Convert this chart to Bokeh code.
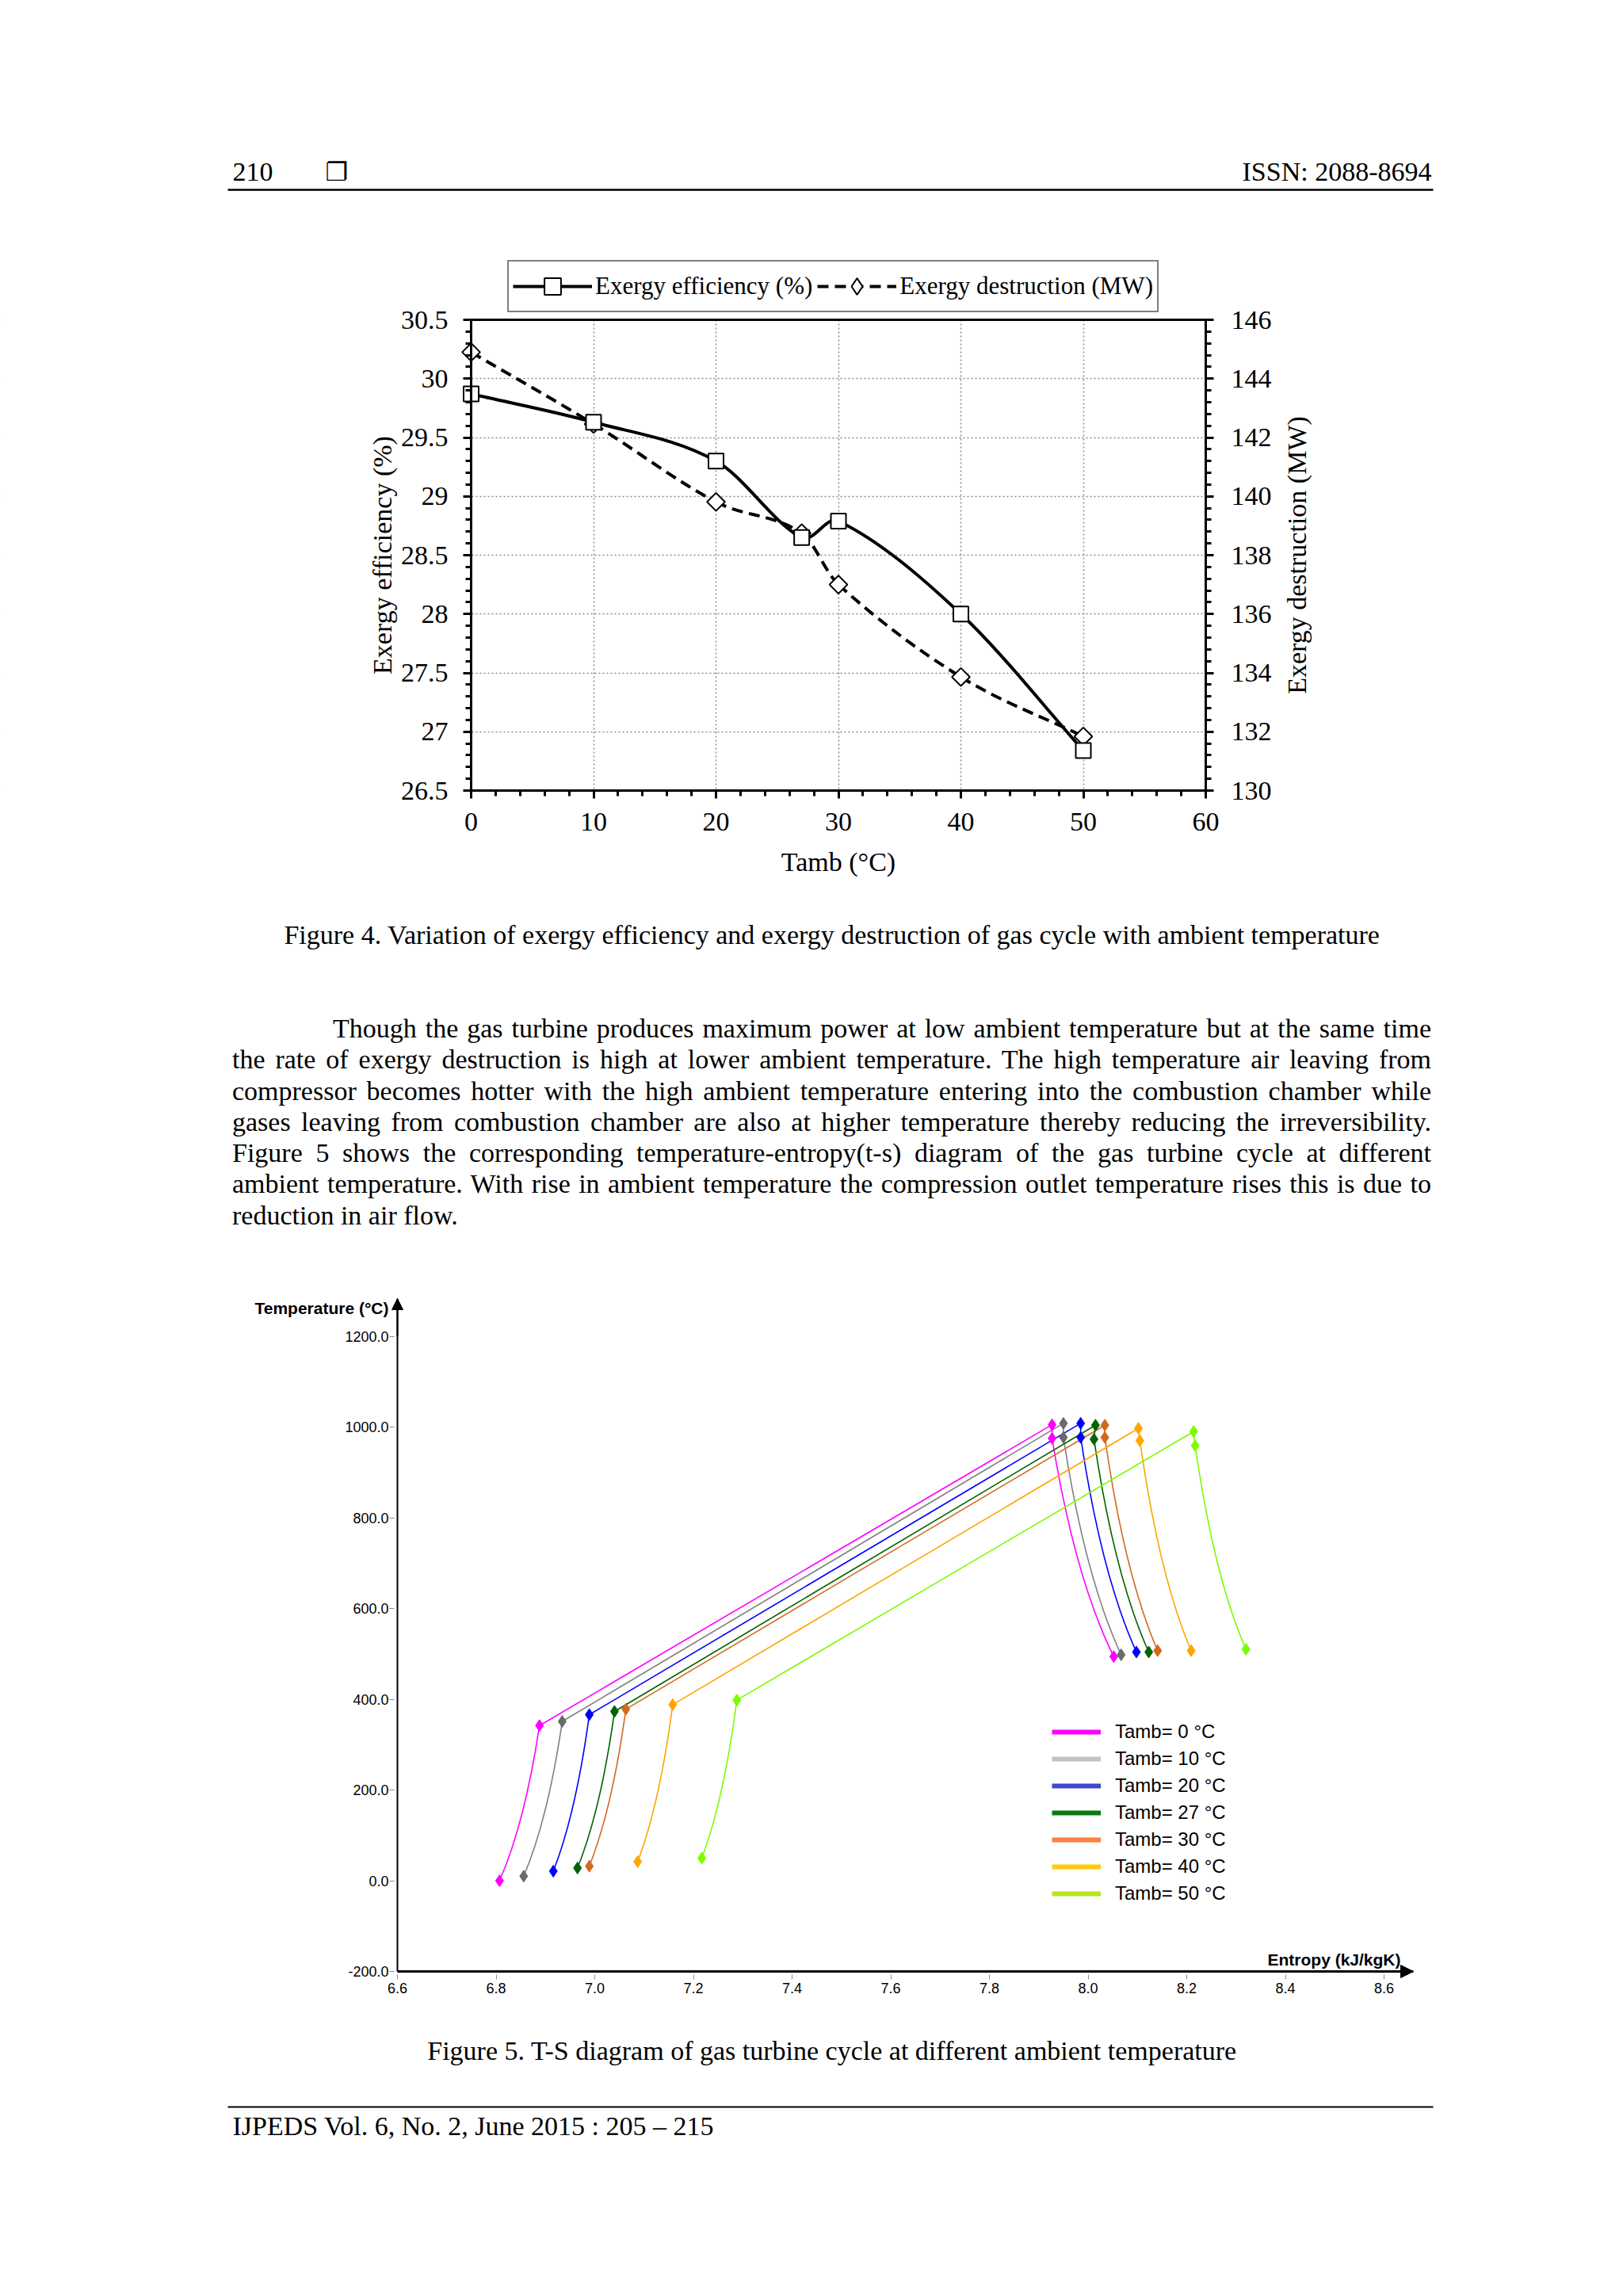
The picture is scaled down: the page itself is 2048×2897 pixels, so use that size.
import math
import numpy as np
from bokeh.plotting import figure
from bokeh.models import (Range1d, LinearAxis, SingleIntervalTicker, FixedTicker,
                          NumeralTickFormatter, CustomJSTickFormatter, Legend, LegendItem,
                          Arrow, NormalHead, Div, ColumnDataSource, Label, BoxAnnotation)
from bokeh.layouts import column
from bokeh.core.properties import value
from bokeh.embed import file_html
from bokeh.resources import INLINE

# ---------------- Figure 4 data ----------------
tamb = [0, 10, 20, 27, 30, 40, 50]
exergy_efficiency = [29.87, 29.63, 29.30, 28.65, 28.79, 28.00, 26.84]      # %
exergy_destruction = [144.9, 142.46, 139.81, 138.75, 137.0, 133.86, 131.84]  # MW
tamb_axis = (0, 60)
eff_axis = (26.5, 30.5)
mw_axis = (130, 146)

# ---------------- Figure 5 data (T-s diagram) ----------------
ts_labels = ["Tamb= 0 °C", "Tamb= 10 °C", "Tamb= 20 °C", "Tamb= 27 °C",
             "Tamb= 30 °C", "Tamb= 40 °C", "Tamb= 50 °C"]
s_inlet = [6.807, 6.856, 6.916, 6.965, 6.989, 7.087, 7.217]
t_inlet = [0, 10, 21, 28, 32, 42, 50]
s_comp_out = [6.888, 6.934, 6.989, 7.040, 7.063, 7.158, 7.288]
t_comp_out = [342, 351, 366, 373, 378, 388, 398]
s_comb_out = [7.927, 7.950, 7.985, 8.015, 8.034, 8.102, 8.214]
t_comb_out = [1005, 1008, 1008, 1004, 1004, 997, 990]
s_turb_in = [7.927, 7.950, 7.985, 8.012, 8.034, 8.105, 8.217]
t_turb_in = [975, 977, 977, 973, 977, 970, 959]
s_exhaust = [8.052, 8.067, 8.098, 8.123, 8.141, 8.209, 8.320]
t_exhaust = [494, 498, 504, 504, 507, 507, 510]
entropy_ticks = [6.6, 6.8, 7.0, 7.2, 7.4, 7.6, 7.8, 8.0, 8.2, 8.4, 8.6]
temperature_ticks = [-200, 0, 200, 400, 600, 800, 1000, 1200]

line_colors = ["#FF00FF", "#808080", "#0000FF", "#006400", "#D2691E", "#FFA500", "#7CFC00"]
marker_colors = ["#FF00FF", "#6A6A6A", "#0000FF", "#006400", "#D2691E", "#FFA500", "#7CFC00"]
legend_colors = ["#FF00FF", "#C3C3C3", "#3F48CC", "#0A7A0A", "#FF7F3F", "#FFC90E", "#B5E61D"]

# ---------------- page text ----------------
header_left = "210"
header_right = "ISSN: 2088-8694"
caption4 = "Figure 4. Variation of exergy efficiency and exergy destruction of gas cycle with ambient temperature"
caption5 = "Figure 5. T-S diagram of gas turbine cycle at different ambient temperature"
footer = "IJPEDS Vol. 6, No. 2, June 2015 :  205 \u2013 215"
paragraph_lines = [
    "Though the gas turbine produces maximum power at low ambient temperature but at the same time",
    "the rate of exergy destruction is high at lower ambient temperature. The high temperature air leaving from",
    "compressor becomes hotter with the high ambient temperature entering into the combustion chamber while",
    "gases leaving from combustion chamber are also at higher temperature thereby reducing the irreversibility.",
    "Figure 5 shows the corresponding temperature-entropy(t-s) diagram of the gas turbine cycle at different",
    "ambient temperature. With rise in ambient temperature the compression outlet temperature rises this is due to",
    "reduction in air flow.",
]

SERIF = "Liberation Serif"
SANS = "Liberation Sans"
PAGE_W = 2032
TEXT_L, TEXT_R = 293, 1806
TEXT_C = (TEXT_L + TEXT_R) / 2
BASE_FIX = 0.32      # em; compensates where the renderer puts an "alphabetic" baseline


def page_fig(top, height):
    p = figure(width=PAGE_W, height=height, x_range=Range1d(0, PAGE_W),
               y_range=Range1d(top + height, top), x_axis_location=None, y_axis_location=None,
               title=None, toolbar_location=None, output_backend="svg", min_border=0,
               frame_align=False, outline_line_color=None,
               background_fill_color="white", border_fill_color="white")
    p.grid.visible = False
    return p


def serif_text(p, x, y, txt, align="left", size=34, font=SERIF):
    p.text(x=[x], y=[y - BASE_FIX * size], text=[txt], text_font=value(font),
           text_font_size=value("%dpx" % size),
           text_align=align, text_baseline="alphabetic", text_color="black")


def hermite_bezier(x, y):
    x = np.asarray(x, float)
    y = np.asarray(y, float)
    n = len(x)
    m = np.zeros(n)
    m[0] = (y[1] - y[0]) / (x[1] - x[0])
    m[-1] = (y[-1] - y[-2]) / (x[-1] - x[-2])
    for i in range(1, n - 1):
        m[i] = (y[i + 1] - y[i - 1]) / (x[i + 1] - x[i - 1])
    h = np.diff(x)
    return dict(x0=x[:-1], y0=y[:-1], x1=x[1:], y1=y[1:],
                cx0=x[:-1] + h / 3, cy0=y[:-1] + m[:-1] * h / 3,
                cx1=x[1:] - h / 3, cy1=y[1:] - m[1:] * h / 3)


# ---------------- header ----------------
hdr = page_fig(0, 300)
serif_text(hdr, TEXT_L, 227, header_left)
serif_text(hdr, 410, 227, "\u2750", size=32, font="DejaVu Sans")
serif_text(hdr, TEXT_R, 227, header_right, align="right")
hdr.segment(x0=[287], y0=[239], x1=[TEXT_R + 2], y1=[239], line_color="black", line_width=2.5)

# ---------------- Figure 4 (everything drawn inside one frame) ----------------
F4_TOP, F4_H = 300, 840
AX4_L, AX4_R, AX4_T, AX4_B = 594, 1521, 403, 997      # page position of the plot box
px_x = (AX4_R - AX4_L) / (tamb_axis[1] - tamb_axis[0])
px_eff = (AX4_B - AX4_T) / (eff_axis[1] - eff_axis[0])
px_mw = (AX4_B - AX4_T) / (mw_axis[1] - mw_axis[0])
F4_BOT = F4_TOP + F4_H
p4 = figure(width=PAGE_W, height=F4_H,
            x_range=Range1d(tamb_axis[0] - AX4_L / px_x, tamb_axis[1] + (PAGE_W - AX4_R) / px_x),
            y_range=Range1d(eff_axis[0] - (F4_BOT - AX4_B) / px_eff,
                            eff_axis[0] + (AX4_B - F4_TOP) / px_eff),
            title=None, toolbar_location=None, output_backend="svg", frame_align=False,
            min_border=0, outline_line_color=None,
            background_fill_color="white", border_fill_color="white")
p4.extra_y_ranges = {"mw": Range1d(mw_axis[0] - (F4_BOT - AX4_B) / px_mw,
                                   mw_axis[0] + (AX4_B - F4_TOP) / px_mw)}
ax_l = p4.left[0]
ax_b = p4.below[0]
ax_b.ticker = SingleIntervalTicker(interval=10, num_minor_ticks=5)
ax_l.ticker = SingleIntervalTicker(interval=0.5, num_minor_ticks=5)
ax_l.formatter = CustomJSTickFormatter(code="return String(Math.round(tick*10)/10);")
ax_l.bounds = eff_axis
ax_l.fixed_location = tamb_axis[0]
ax_b.bounds = tamb_axis
ax_b.fixed_location = eff_axis[0]
ax_r = LinearAxis(y_range_name="mw", ticker=SingleIntervalTicker(interval=2, num_minor_ticks=5),
                  bounds=mw_axis, fixed_location=tamb_axis[1])
p4.add_layout(ax_r, "right")
ax_t = LinearAxis(ticker=FixedTicker(ticks=[]), bounds=tamb_axis, fixed_location=eff_axis[1])
p4.add_layout(ax_t, "above")
for ax in (ax_l, ax_b, ax_r, ax_t):
    ax.axis_line_width = 3
    ax.axis_line_color = "black"
    ax.major_tick_line_width = 3
    ax.minor_tick_line_width = 3
    ax.major_tick_line_color = "black"
    ax.minor_tick_line_color = "black"
    ax.major_tick_in = 0
    ax.minor_tick_in = 0
    ax.major_tick_out = 10
    ax.minor_tick_out = 7
    ax.major_label_text_font = SERIF
    ax.major_label_text_font_size = "34px"
    ax.major_label_text_color = "black"
ax_t.minor_tick_line_color = None
ax_t.major_tick_line_color = None
ax_b.major_label_standoff = 18
ax_l.major_label_standoff = 19
ax_r.major_label_standoff = 22
p4.grid.grid_line_color = "#8a8a8a"
p4.grid.grid_line_dash = "2 3"
p4.grid.grid_line_width = 1.5
# keep the dotted grid inside the plot box
for kw in (dict(bottom=eff_axis[1]), dict(top=eff_axis[0]),
           dict(right=tamb_axis[0]), dict(left=tamb_axis[1])):
    p4.add_layout(BoxAnnotation(fill_color="white", fill_alpha=1.0, line_color=None,
                                level="underlay", **kw))

mid_eff = (eff_axis[0] + eff_axis[1]) / 2
p4.add_layout(Label(x=tamb_axis[0] - (AX4_L - 482) / px_x, y=mid_eff, angle=math.pi / 2,
                    text="Exergy efficiency (%)", text_align="center", text_baseline="middle",
                    text_font=SERIF, text_font_size="34px", text_color="black"))
p4.add_layout(Label(x=tamb_axis[1] + (1636 - AX4_R) / px_x, y=mid_eff, angle=math.pi / 2,
                    text="Exergy destruction (MW)", text_align="center", text_baseline="middle",
                    text_font=SERIF, text_font_size="34px", text_color="black"))
p4.add_layout(Label(x=(tamb_axis[0] + tamb_axis[1]) / 2, y=eff_axis[0] - (1087 - AX4_B) / px_eff,
                    text="Tamb (°C)", text_align="center", text_baseline="middle",
                    text_font=SERIF, text_font_size="34px", text_color="black"))

eff_src = ColumnDataSource(hermite_bezier(tamb, exergy_efficiency))
des_src = ColumnDataSource(hermite_bezier(tamb, exergy_destruction))
r_des_line = p4.bezier(x0="x0", y0="y0", x1="x1", y1="y1", cx0="cx0", cy0="cy0", cx1="cx1", cy1="cy1",
                       source=des_src, line_color="black", line_width=4, line_dash="14 8",
                       y_range_name="mw")
r_eff_line = p4.bezier(x0="x0", y0="y0", x1="x1", y1="y1", cx0="cx0", cy0="cy0", cx1="cx1", cy1="cy1",
                       source=eff_src, line_color="black", line_width=4)
r_des_mk = p4.scatter(tamb, exergy_destruction, marker="square", angle=np.pi / 4, size=16,
                      fill_color="white", line_color="black", line_width=2, y_range_name="mw")
r_eff_mk = p4.scatter(tamb, exergy_efficiency, marker="square", size=19,
                      fill_color="white", line_color="black", line_width=2)
r_des_key = p4.scatter(x=[np.nan], y=[np.nan], marker="diamond", size=26,
                       fill_color="white", line_color="black", line_width=2)

leg4 = Legend(items=[LegendItem(label="Exergy efficiency (%)", renderers=[r_eff_line, r_eff_mk], index=0),
                     LegendItem(label="Exergy destruction (MW)", renderers=[r_des_line, r_des_key])],
              orientation="horizontal", location=(640, F4_BOT - 394),
              label_text_font=SERIF, label_text_font_size="31px", label_text_color="black",
              glyph_width=100, glyph_height=52, label_height=40, label_standoff=4, spacing=6,
              padding=5, margin=0, border_line_color="black", border_line_width=2,
              background_fill_color="white", background_fill_alpha=1.0)
p4.add_layout(leg4)

# ---------------- caption 4 ----------------
cap4 = page_fig(1140, 137)
serif_text(cap4, TEXT_C, 1190, caption4, align="center")

# ---------------- paragraph ----------------
rows = []
for i, ln in enumerate(paragraph_lines):
    last = (i == len(paragraph_lines) - 1)
    st = "text-align:%s;text-align-last:%s;%s" % ("left" if last else "justify",
                                                 "left" if last else "justify",
                                                 "text-indent:127px;" if i == 0 else "")
    rows.append('<div style="%s">%s</div>' % (st, ln))
html = ('<div style="box-sizing:content-box;margin:0 0 0 %dpx;padding:1px 0 0 0;'
        'font-family:\'Liberation Serif\',serif;font-size:34px;line-height:39.3px;color:#000;'
        'width:%dpx;">' % (TEXT_L, TEXT_R - TEXT_L) + "".join(rows) + "</div>")
para = Div(text=html, width=PAGE_W, height=280, margin=(0, 0, 0, 0))

# ---------------- Figure 5 ----------------
F5_TOP, F5_H = 1557, 983
F5_FRAME_L, F5_FRAME_T, F5_FRAME_B = 300, 1638, 2535
AXIS5_X, AXIS5_Y = 501, 2487        # page position of the two axes
PX_PER_S = 622.5
PX_PER_T = 114.5 / 200
S_END = entropy_ticks[-1] + 37 / PX_PER_S
s_start = entropy_ticks[0] - (AXIS5_X - F5_FRAME_L) / PX_PER_S
t_start = temperature_ticks[0] - (F5_FRAME_B - AXIS5_Y) / PX_PER_T
T_END = temperature_ticks[0] + (AXIS5_Y - F5_FRAME_T) / PX_PER_T
p5 = figure(width=PAGE_W, height=F5_H, x_range=Range1d(s_start, S_END),
            y_range=Range1d(t_start, T_END), title=None,
            toolbar_location=None, output_backend="svg", frame_align=False,
            min_border_left=F5_FRAME_L, min_border_right=PAGE_W - 1783,
            min_border_top=F5_FRAME_T - F5_TOP, min_border_bottom=F5_TOP + F5_H - F5_FRAME_B,
            background_fill_color="white", border_fill_color="white")
p5.grid.visible = False
p5.outline_line_color = None
ax5x = p5.below[0]
ax5y = p5.left[0]
ax5x.ticker = FixedTicker(ticks=entropy_ticks)
ax5y.ticker = FixedTicker(ticks=temperature_ticks)
ax5x.formatter = NumeralTickFormatter(format="0.0")
ax5y.formatter = NumeralTickFormatter(format="0.0")
ax5x.bounds = (entropy_ticks[0], S_END)
ax5y.bounds = (temperature_ticks[0], T_END)
ax5x.fixed_location = temperature_ticks[0]
ax5y.fixed_location = entropy_ticks[0]
for ax in (ax5x, ax5y):
    ax.axis_line_color = "black"
    ax.major_tick_line_color = "#8c8c8c"
    ax.major_tick_line_width = 1
    ax.minor_tick_line_color = None
    ax.major_tick_in = -4
    ax.major_tick_out = 10
    ax.major_label_text_font = SANS
    ax.major_label_text_font_size = "18px"
    ax.major_label_text_color = "black"
ax5x.axis_line_width = 3
ax5y.axis_line_width = 2
ax5x.major_label_standoff = 4
ax5y.major_label_standoff = 1

x_axis = entropy_ticks[0]
y_axis = temperature_ticks[0]
p5.add_layout(Arrow(end=NormalHead(size=14, fill_color="black", line_color="black"),
                    x_start=x_axis, y_start=temperature_ticks[-1], x_end=x_axis, y_end=T_END,
                    line_color="black", line_width=2))
p5.add_layout(Arrow(end=NormalHead(size=16, fill_color="black", line_color="black"),
                    x_start=entropy_ticks[-1], y_start=y_axis, x_end=S_END, y_end=y_axis,
                    line_color="black", line_width=3))
p5.add_layout(Label(x=x_axis, y=T_END - (1657 - 7 - F5_FRAME_T) / PX_PER_T, x_offset=-11,
                    text="Temperature (°C)", text_align="right",
                    text_baseline="alphabetic", text_font=SANS, text_font_size="21px",
                    text_font_style="bold", text_color="black"))
p5.add_layout(Label(x=S_END, y=y_axis + (8 + 7) / PX_PER_T, x_offset=-16, text="Entropy (kJ/kgK)",
                    text_align="right", text_baseline="alphabetic", text_font=SANS,
                    text_font_size="21px", text_font_style="bold", text_color="black"))

si, ti = np.array(s_inlet), np.array(t_inlet, float)
sc, tc = np.array(s_comp_out), np.array(t_comp_out, float)
s3, t3 = np.array(s_comb_out), np.array(t_comb_out, float)
s3b, t3b = np.array(s_turb_in), np.array(t_turb_in, float)
s4, t4 = np.array(s_exhaust), np.array(t_exhaust, float)
COMP_CX, COMP_CY = 0.63, 0.37
EXP_CX, EXP_CY = 0.37, 0.64
comp_src = ColumnDataSource(dict(x0=si, y0=ti, x1=sc, y1=tc,
                                 cx=si + COMP_CX * (sc - si), cy=ti + COMP_CY * (tc - ti),
                                 color=line_colors))
exp_src = ColumnDataSource(dict(x0=s3b, y0=t3b, x1=s4, y1=t4,
                                cx=s3b + EXP_CX * (s4 - s3b), cy=t3b + EXP_CY * (t4 - t3b),
                                color=line_colors))
p5.quadratic(x0="x0", y0="y0", x1="x1", y1="y1", cx="cx", cy="cy", source=comp_src,
             line_color="color", line_width=1.6)
p5.quadratic(x0="x0", y0="y0", x1="x1", y1="y1", cx="cx", cy="cy", source=exp_src,
             line_color="color", line_width=1.6)
seg_src = ColumnDataSource(dict(x0=np.concatenate([sc, s3]), y0=np.concatenate([tc, t3]),
                                x1=np.concatenate([s3, s3b]), y1=np.concatenate([t3, t3b]),
                                color=line_colors + line_colors))
p5.segment(x0="x0", y0="y0", x1="x1", y1="y1", source=seg_src, line_color="color", line_width=1.6)
mk_src = ColumnDataSource(dict(x=np.concatenate([si, sc, s3, s3b, s4]),
                               y=np.concatenate([ti, tc, t3, t3b, t4]),
                               color=marker_colors * 5))
p5.scatter(x="x", y="y", source=mk_src, marker="diamond", size=15,
           fill_color="color", line_color="color")

items5 = []
for lab, col in zip(ts_labels, legend_colors):
    r = p5.line(x=[np.nan], y=[np.nan], line_color=col, line_width=6)
    items5.append(LegendItem(label=lab, renderers=[r]))
leg5 = Legend(items=items5, location=(1327 - F5_FRAME_L, F5_FRAME_B - 2406), orientation="vertical",
              label_text_font=SANS, label_text_font_size="24px", label_text_color="black",
              glyph_width=62, glyph_height=34, label_height=34, label_standoff=18, spacing=0,
              padding=0, margin=0, border_line_color=None, background_fill_alpha=0)
p5.add_layout(leg5)

# ---------------- caption 5 + footer ----------------
bot = page_fig(2540, 341)
serif_text(bot, TEXT_C, 2598, caption5, align="center")
bot.segment(x0=[287], y0=[2658], x1=[TEXT_R + 2], y1=[2658], line_color="black", line_width=2)
serif_text(bot, TEXT_L, 2693, footer)

page = column(hdr, p4, cap4, para, p5, bot, spacing=0)
open("out.html", "w").write(file_html(page, INLINE))
